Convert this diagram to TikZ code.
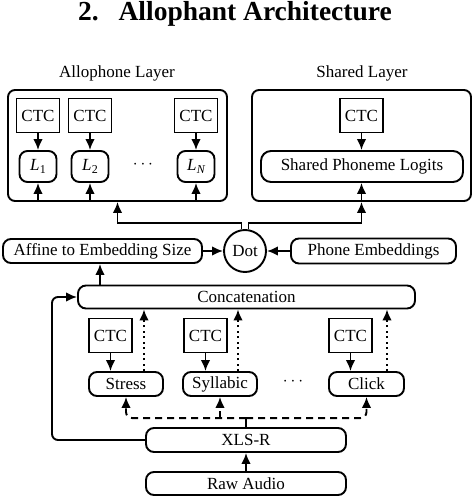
\documentclass[tikz,border=0pt]{standalone}
\usepackage{fontspec}
\setmainfont{Liberation Serif}
\usetikzlibrary{arrows.meta}
\newcommand{\Lsub}[1]{\textit{L}\kern0.3pt\raisebox{-0.35ex}{\fontsize{12}{12}\selectfont #1}}
\begin{document}
\begin{tikzpicture}[x=1pt,y=-1pt,
  lw/.style={line width=1.9pt},
  txt/.style={font=\fontsize{17}{19}\selectfont},
  rbox/.style={draw, lw, txt, rounded corners=7pt, inner sep=0pt},
  sbox/.style={draw, lw, txt, inner sep=0pt, minimum width=43pt, minimum height=34pt},
  arr/.style={lw, -{Latex[length=11pt,width=9.5pt]}},
  dotarr/.style={arr, dash pattern=on 1.9pt off 3.6pt},
  dasharr/.style={arr, dash pattern=on 7pt off 5pt},
]
\useasboundingbox (0,0) rectangle (474,497);

% title
\node[anchor=base, font=\bfseries\fontsize{27.5}{30}\selectfont, inner sep=0pt] (title) at (235,21) {2.\hspace{0.72em}Allophant Architecture};

% layer labels
\node[anchor=base, txt, inner sep=0pt] (allolab) at (117,78) {Allophone Layer};
\node[anchor=base, txt, inner sep=0pt] (sharedlab) at (362,78) {Shared Layer};

% layer boxes
\node[rbox, minimum width=219pt, minimum height=111pt] (allo) at (117.5,145.5) {};
\node[rbox, minimum width=219pt, minimum height=111pt] (shared) at (361.5,145.5) {};

% allophone contents
\node[sbox] (ctcA1) at (38,115.5) {CTC};
\node[sbox] (ctcA2) at (90,115.5) {CTC};
\node[sbox] (ctcA3) at (196,115.5) {CTC};
\node[rbox, rounded corners=8pt, minimum width=37pt, minimum height=31pt] (L1) at (38,166.5) {\Lsub{1}};
\node[rbox, rounded corners=8pt, minimum width=37pt, minimum height=31pt] (L2) at (90,166.5) {\Lsub{2}};
\node[rbox, rounded corners=8pt, minimum width=37pt, minimum height=31pt] (LN) at (196,166.5) {\Lsub{\itshape N}};
\node[txt] (adots) at (143,165) {$\cdots$};

% shared contents
\node[sbox] (ctcS) at (361.5,115.5) {CTC};
\node[rbox, rounded corners=10pt, minimum width=202pt, minimum height=31pt] (spl) at (362,166.5) {Shared Phoneme Logits};

% middle row
\node[draw, lw, txt, circle, inner sep=0pt, minimum size=42pt] (dot) at (245,251) {Dot};
\node[rbox, rounded corners=8pt, minimum width=199pt, minimum height=24pt] (affine) at (102.5,251) {Affine to Embedding Size};
\node[rbox, rounded corners=8pt, minimum width=165pt, minimum height=25pt] (phone) at (373.5,251) {Phone Embeddings};

% concatenation
\node[rbox, rounded corners=8pt, minimum width=337pt, minimum height=23pt] (concat) at (246.5,297) {Concatenation};

% lower heads
\node[sbox] (ctcB1) at (110.5,335.5) {CTC};
\node[sbox] (ctcB2) at (205.5,335.5) {CTC};
\node[sbox] (ctcB3) at (350.5,335.5) {CTC};
\node[rbox, rounded corners=8pt, minimum width=74pt, minimum height=24pt] (stress) at (126,384) {Stress};
\node[rbox, rounded corners=8pt, minimum width=74pt, minimum height=24pt] (syll) at (220,384) {Syllabic};
\node[rbox, rounded corners=8pt, minimum width=75pt, minimum height=24pt] (click) at (366.5,384) {Click};
\node[txt] (bdots) at (293,382) {$\cdots$};

% encoder
\node[rbox, rounded corners=8pt, minimum width=200pt, minimum height=24pt] (xls) at (246,440) {XLS-R};
\node[rbox, rounded corners=8pt, minimum width=200pt, minimum height=23pt] (raw) at (246,483.5) {Raw Audio};

% helper coordinates
\coordinate (ax) at (100,0);
\coordinate (lx) at (52,0);
\coordinate (d1) at (144,0);
\coordinate (d2) at (238,0);
\coordinate (d3) at (387,0);

% allophone arrows
\draw[arr] (ctcA1.south) -- (L1.north);
\draw[arr] (ctcA2.south) -- (L2.north);
\draw[arr] (ctcA3.south) -- (LN.north);
\draw[arr] (L1.south |- allo.south) -- (L1.south);
\draw[arr] (L2.south |- allo.south) -- (L2.south);
\draw[arr] (LN.south |- allo.south) -- (LN.south);

% shared arrows
\draw[arr] (ctcS.south) -- (ctcS.south |- spl.north);
\draw[arr] (ctcS.south |- shared.south) -- (ctcS.south |- spl.south);

% dot outputs
\draw[arr] ([xshift=-3.5pt]dot.north) -- ++(0,-6) -| (allo.south);
\draw[arr] ([xshift=3.5pt]dot.north) -- ++(0,-6) -| (ctcS.south |- shared.south);

% dot inputs
\draw[arr] (affine.east) -- (dot.west);
\draw[arr] (phone.west) -- (dot.east);
\draw[arr] (ax |- concat.north) -- (ax |- affine.south);

% skip connection
\draw[arr, rounded corners=6pt] (xls.west) -- (lx |- xls.west) -- (lx |- concat.west) -- (concat.west);

% lower head arrows
\draw[arr] (ctcB1.south) -- (ctcB1.south |- stress.north);
\draw[arr] (ctcB2.south) -- (ctcB2.south |- syll.north);
\draw[arr] (ctcB3.south) -- (ctcB3.south |- click.north);
\draw[dotarr] (d1 |- stress.north) -- (d1 |- concat.south);
\draw[dotarr] (d2 |- syll.north) -- (d2 |- concat.south);
\draw[dotarr] (d3 |- click.north) -- (d3 |- concat.south);

% encoder fan-out
\draw[lw] (xls.north) -- ++(0,-9) coordinate (hub);
\draw[dasharr, rounded corners=6pt] (hub) -| (stress.south);
\draw[dasharr, rounded corners=6pt] (hub) -| (click.south);
\draw[dasharr] (syll.south |- hub) -- (syll.south);
\draw[arr] (raw.north) -- (xls.south);
\end{tikzpicture}
\end{document}
